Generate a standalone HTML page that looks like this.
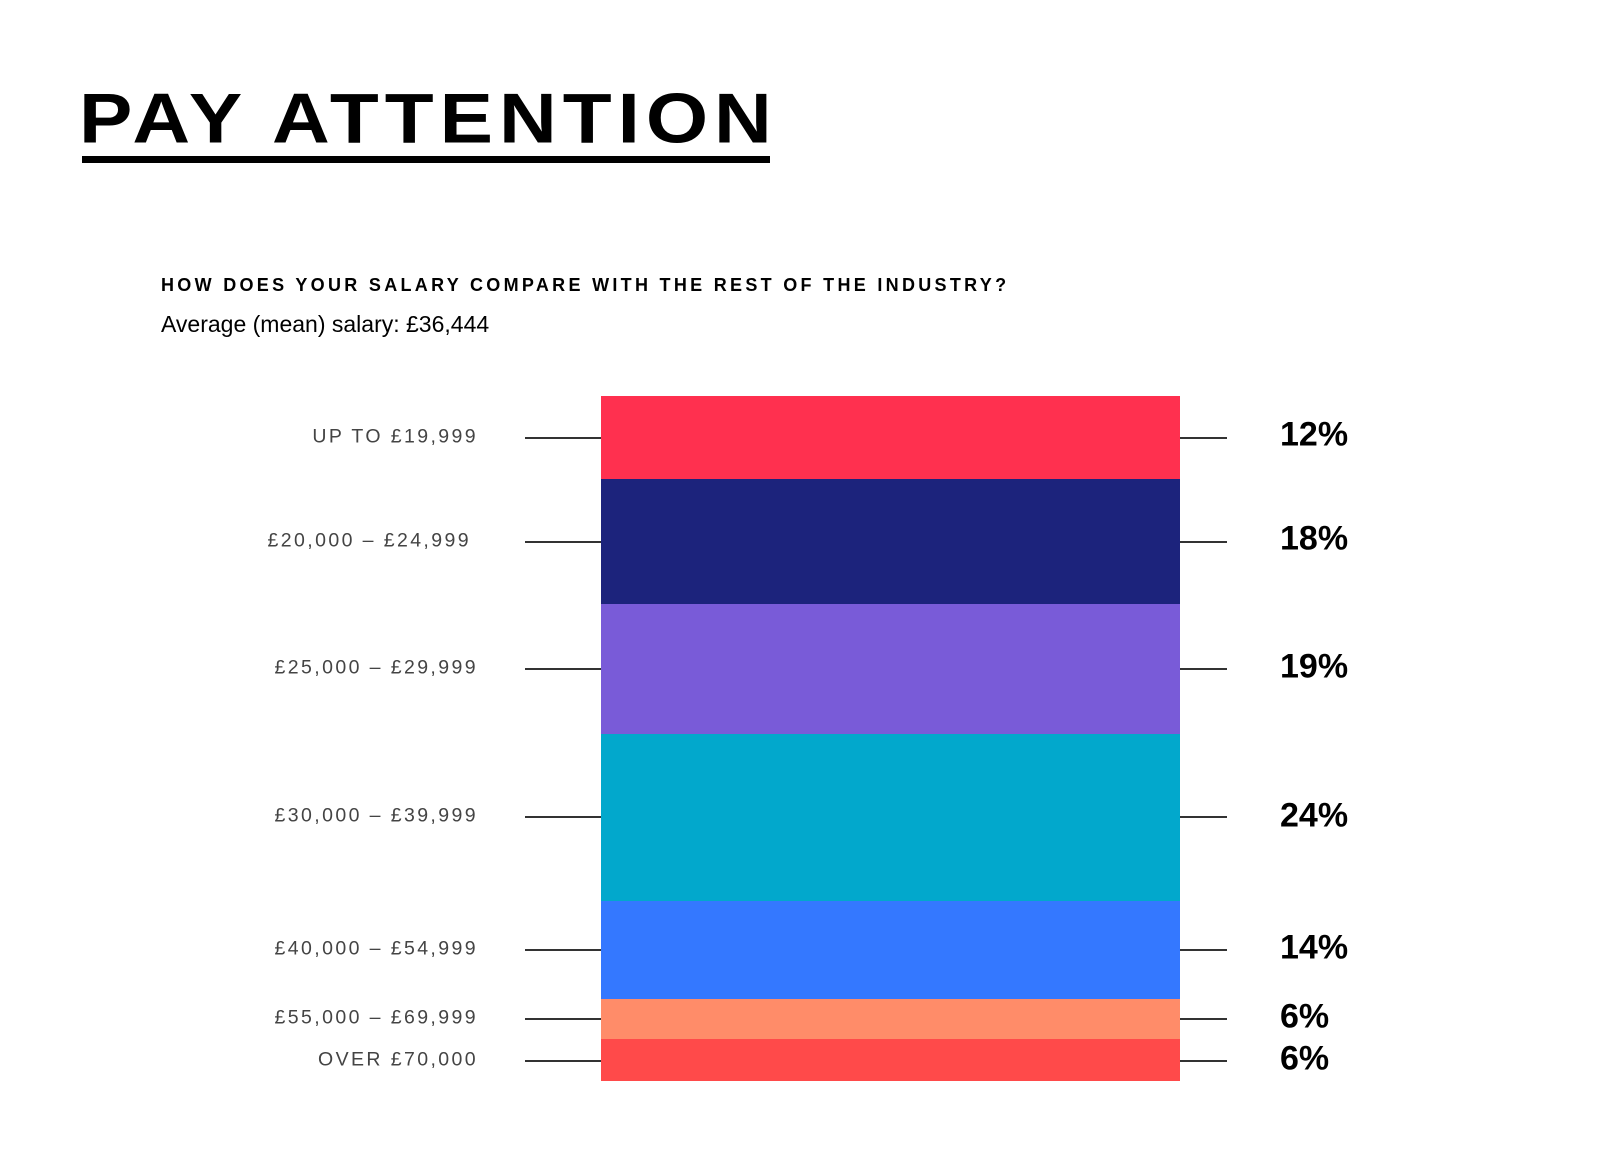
<!DOCTYPE html>
<html><head><meta charset="utf-8"><style>
body{margin:0;width:1600px;height:1173px;background:#fff;position:relative;overflow:hidden;font-family:"Liberation Sans",sans-serif}
.a{position:absolute;white-space:nowrap}
.title{left:79px;top:68px;font-size:80px;font-weight:bold;letter-spacing:6px;line-height:96px;transform:scaleY(0.88);transform-origin:0 75%}
.ul{left:82px;top:156px;width:688px;height:7px;background:#000}
.sub{left:161px;top:275px;font-size:18px;font-weight:bold;letter-spacing:3.3px}
.avg{left:161px;top:311px;font-size:23px}
.lab{right:1122px;font-size:19.5px;color:#444;letter-spacing:2.4px;transform:translateY(-50%)}
.pct{left:1280px;font-size:34px;font-weight:bold;transform:translateY(-50%)}
.ln{height:1.5px;background:#333}
.bar{left:601px;width:579px}
</style></head><body>
<div class="a title">PAY ATTENTION</div>
<div class="a ul"></div>
<div class="a sub">HOW DOES YOUR SALARY COMPARE WITH THE REST OF THE INDUSTRY?</div>
<div class="a avg">Average (mean) salary: £36,444</div>

<div class="a bar" style="top:396px;height:83px;background:#ff304f"></div>
<div class="a bar" style="top:479px;height:125px;background:#1c237c"></div>
<div class="a bar" style="top:604px;height:130px;background:#795bd8"></div>
<div class="a bar" style="top:734px;height:167px;background:#02a8cc"></div>
<div class="a bar" style="top:901px;height:98px;background:#3478ff"></div>
<div class="a bar" style="top:999px;height:40px;background:#ff8c69"></div>
<div class="a bar" style="top:1039px;height:42px;background:#ff4a4a"></div>

<div class="a ln" style="left:525px;width:76px;top:437px"></div><div class="a ln" style="left:1180px;width:47px;top:437px"></div>
<div class="a ln" style="left:525px;width:76px;top:541px"></div><div class="a ln" style="left:1180px;width:47px;top:541px"></div>
<div class="a ln" style="left:525px;width:76px;top:668px"></div><div class="a ln" style="left:1180px;width:47px;top:668px"></div>
<div class="a ln" style="left:525px;width:76px;top:816px"></div><div class="a ln" style="left:1180px;width:47px;top:816px"></div>
<div class="a ln" style="left:525px;width:76px;top:949px"></div><div class="a ln" style="left:1180px;width:47px;top:949px"></div>
<div class="a ln" style="left:525px;width:76px;top:1018px"></div><div class="a ln" style="left:1180px;width:47px;top:1018px"></div>
<div class="a ln" style="left:525px;width:76px;top:1060px"></div><div class="a ln" style="left:1180px;width:47px;top:1060px"></div>

<div class="a lab" style="top:437px">UP TO £19,999</div>
<div class="a lab" style="top:541px;right:1129px">£20,000 – £24,999</div>
<div class="a lab" style="top:668px">£25,000 – £29,999</div>
<div class="a lab" style="top:816px">£30,000 – £39,999</div>
<div class="a lab" style="top:949px">£40,000 – £54,999</div>
<div class="a lab" style="top:1018px">£55,000 – £69,999</div>
<div class="a lab" style="top:1060px">OVER £70,000</div>

<div class="a pct" style="top:435px">12%</div>
<div class="a pct" style="top:539px">18%</div>
<div class="a pct" style="top:667px">19%</div>
<div class="a pct" style="top:816px">24%</div>
<div class="a pct" style="top:948px">14%</div>
<div class="a pct" style="top:1017px">6%</div>
<div class="a pct" style="top:1059px">6%</div>
</body></html>
